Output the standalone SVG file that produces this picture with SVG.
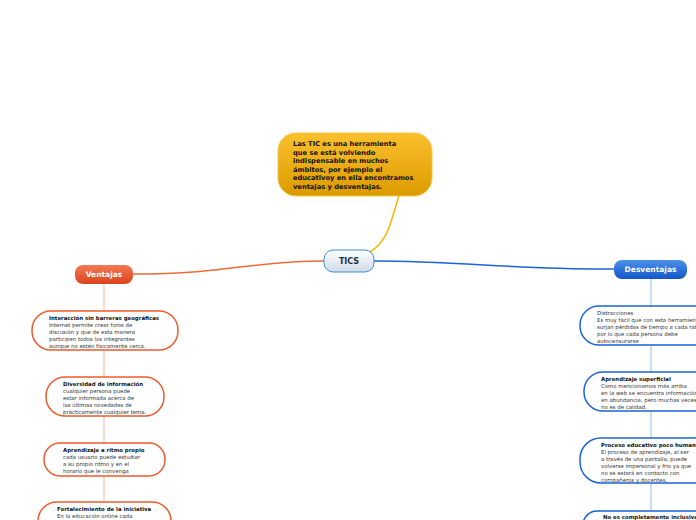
<svg xmlns="http://www.w3.org/2000/svg" width="696" height="520" viewBox="0 0 696 520">
<defs>
<linearGradient id="gy" x1="0" y1="0" x2="0" y2="1"><stop offset="0" stop-color="#fbc02d"/><stop offset="1" stop-color="#dc9a00"/></linearGradient>
<linearGradient id="gr" x1="0" y1="0" x2="0" y2="1"><stop offset="0" stop-color="#f47a55"/><stop offset="1" stop-color="#d9431c"/></linearGradient>
<linearGradient id="gb" x1="0" y1="0" x2="0" y2="1"><stop offset="0" stop-color="#4d90ea"/><stop offset="1" stop-color="#1256c8"/></linearGradient>
<linearGradient id="gc" x1="0" y1="0" x2="0" y2="1"><stop offset="0" stop-color="#ffffff"/><stop offset="1" stop-color="#cfdae6"/></linearGradient>
</defs>
<style>
text{font-family:"DejaVu Sans",Verdana,sans-serif;font-size:5.4px;fill:#333}
.b{font-weight:bold;fill:#111}
.c{font-weight:bold;fill:#111;font-size:6.7px}
.w{font-weight:bold;fill:#fff;font-size:7.5px}
.lo{fill:#fff;stroke:#ef5a2a;stroke-width:1.5}
.lb{fill:#fff;stroke:#1a64d6;stroke-width:1.5}
</style>
<g id="connectors" fill="none">
<path d="M133 274 C 230 274, 250 261, 324 261" stroke="#ef6a3a" stroke-width="1.5"/>
<path d="M374 261 C 460 261, 520 270, 614 269" stroke="#1a64d6" stroke-width="1.5"/>
<path d="M370 252 C 390 240, 392 215, 399 196" stroke="#f6b800" stroke-width="1.5"/>
<path d="M104 284 V311 M104 350 V377 M104 416 V443 M104 476 V502" stroke="#f8c0aa" stroke-width="1.2"/>
<path d="M651 279 V306 M651 345 V372 M651 411 V438 M651 483 V511" stroke="#a9c6f0" stroke-width="1.2"/>
</g>
<g id="central"><rect x="324" y="250" width="50" height="22" rx="9" fill="url(#gc)" stroke="#3c8fd6" stroke-width="1"/><text x="349" y="264" text-anchor="middle" class="b" style="font-size:8px;fill:#1d2f4a">TICS</text></g>
<g id="callout"><rect x="278" y="133" width="154" height="63" rx="18" fill="url(#gy)" stroke="#f5c542" stroke-width="1"/>
<text class="c" x="293" y="146">Las TIC es una herramienta</text>
<text class="c" x="293" y="154.5">que se está volviendo</text>
<text class="c" x="293" y="163">indispensable en muchos</text>
<text class="c" x="293" y="171.5">ámbitos, por ejemplo el</text>
<text class="c" x="293" y="180">educativoy en ella encontramos</text>
<text class="c" x="293" y="188.5">ventajas y desventajas.</text></g>
<g id="ventajas"><rect x="75" y="265" width="58" height="19" rx="8" fill="url(#gr)"/><text class="w" x="104" y="277" text-anchor="middle">Ventajas</text></g>
<g id="desventajas"><rect x="614" y="260" width="73" height="19" rx="8" fill="url(#gb)"/><text class="w" x="650.5" y="272" text-anchor="middle">Desventajas</text></g>
<g id="v1"><rect class="lo" x="32" y="311" width="146" height="39" rx="19"/>
<text class="b" x="49" y="319.5">Interacción sin barreras geográficas</text>
<text x="49" y="326.5">Internet permite crear foros de</text>
<text x="49" y="333.5">discusión y que de esta manera</text>
<text x="49" y="340.5">participen todos los integrantes</text>
<text x="49" y="347.5">aunque no estén físicamente cerca.</text></g>
<g id="v2"><rect class="lo" x="46" y="377" width="118" height="39" rx="19"/>
<text class="b" x="63" y="385.5">Diversidad de información</text>
<text x="63" y="392.5">cualquier persona puede</text>
<text x="63" y="399.5">estar informada acerca de</text>
<text x="63" y="406.5">las últimas novedades de</text>
<text x="63" y="413.5">prácticamente cualquier tema.</text></g>
<g id="v3"><rect class="lo" x="44" y="443" width="121" height="33" rx="16"/>
<text class="b" x="63" y="451.5">Aprendizaje a ritmo propio</text>
<text x="63" y="458.5">cada usuario puede estudiar</text>
<text x="63" y="465.5">a su propio ritmo y en el</text>
<text x="63" y="472.5">horario que le convenga</text></g>
<g id="v4"><rect class="lo" x="38" y="502" width="133" height="40" rx="19"/>
<text class="b" x="57" y="510.5">Fortalecimiento de la iniciativa</text>
<text x="57" y="517.5">En la educación online cada</text></g>
<g id="d1"><rect class="lb" x="580" y="306" width="140" height="39" rx="19"/>
<text x="597" y="314.5">Distracciones</text>
<text x="597" y="321.5">Es muy fácil que con esta herramienta</text>
<text x="597" y="328.5">surjan pérdidas de tiempo a cada rato</text>
<text x="597" y="335.5">por lo que cada persona debe</text>
<text x="597" y="342.5">autocensurarse</text></g>
<g id="d2"><rect class="lb" x="584" y="372" width="136" height="39" rx="19"/>
<text class="b" x="601" y="380.5">Aprendizaje superficial</text>
<text x="601" y="387.5">Como mencionamos más arriba</text>
<text x="601" y="394.5">en la web se encuentra información</text>
<text x="601" y="401.5">en abundancia, pero muchas veces</text>
<text x="601" y="408.5">no es de calidad.</text></g>
<g id="d3"><rect class="lb" x="580" y="438" width="140" height="45" rx="21"/>
<text class="b" x="601" y="446.5">Proceso educativo poco humano</text>
<text x="601" y="453.5">El proceso de aprendizaje, al ser</text>
<text x="601" y="460.5">a través de una pantalla, puede</text>
<text x="601" y="467.5">volverse impersonal y frío ya que</text>
<text x="601" y="474.5">no se estará en contacto con</text>
<text x="601" y="481.5">compañeros y docentes.</text></g>
<g id="d4"><rect class="lb" x="583" y="511" width="137" height="30" rx="14"/>
<text class="b" x="603" y="519">No es completamente inclusiva</text></g>
</svg>
